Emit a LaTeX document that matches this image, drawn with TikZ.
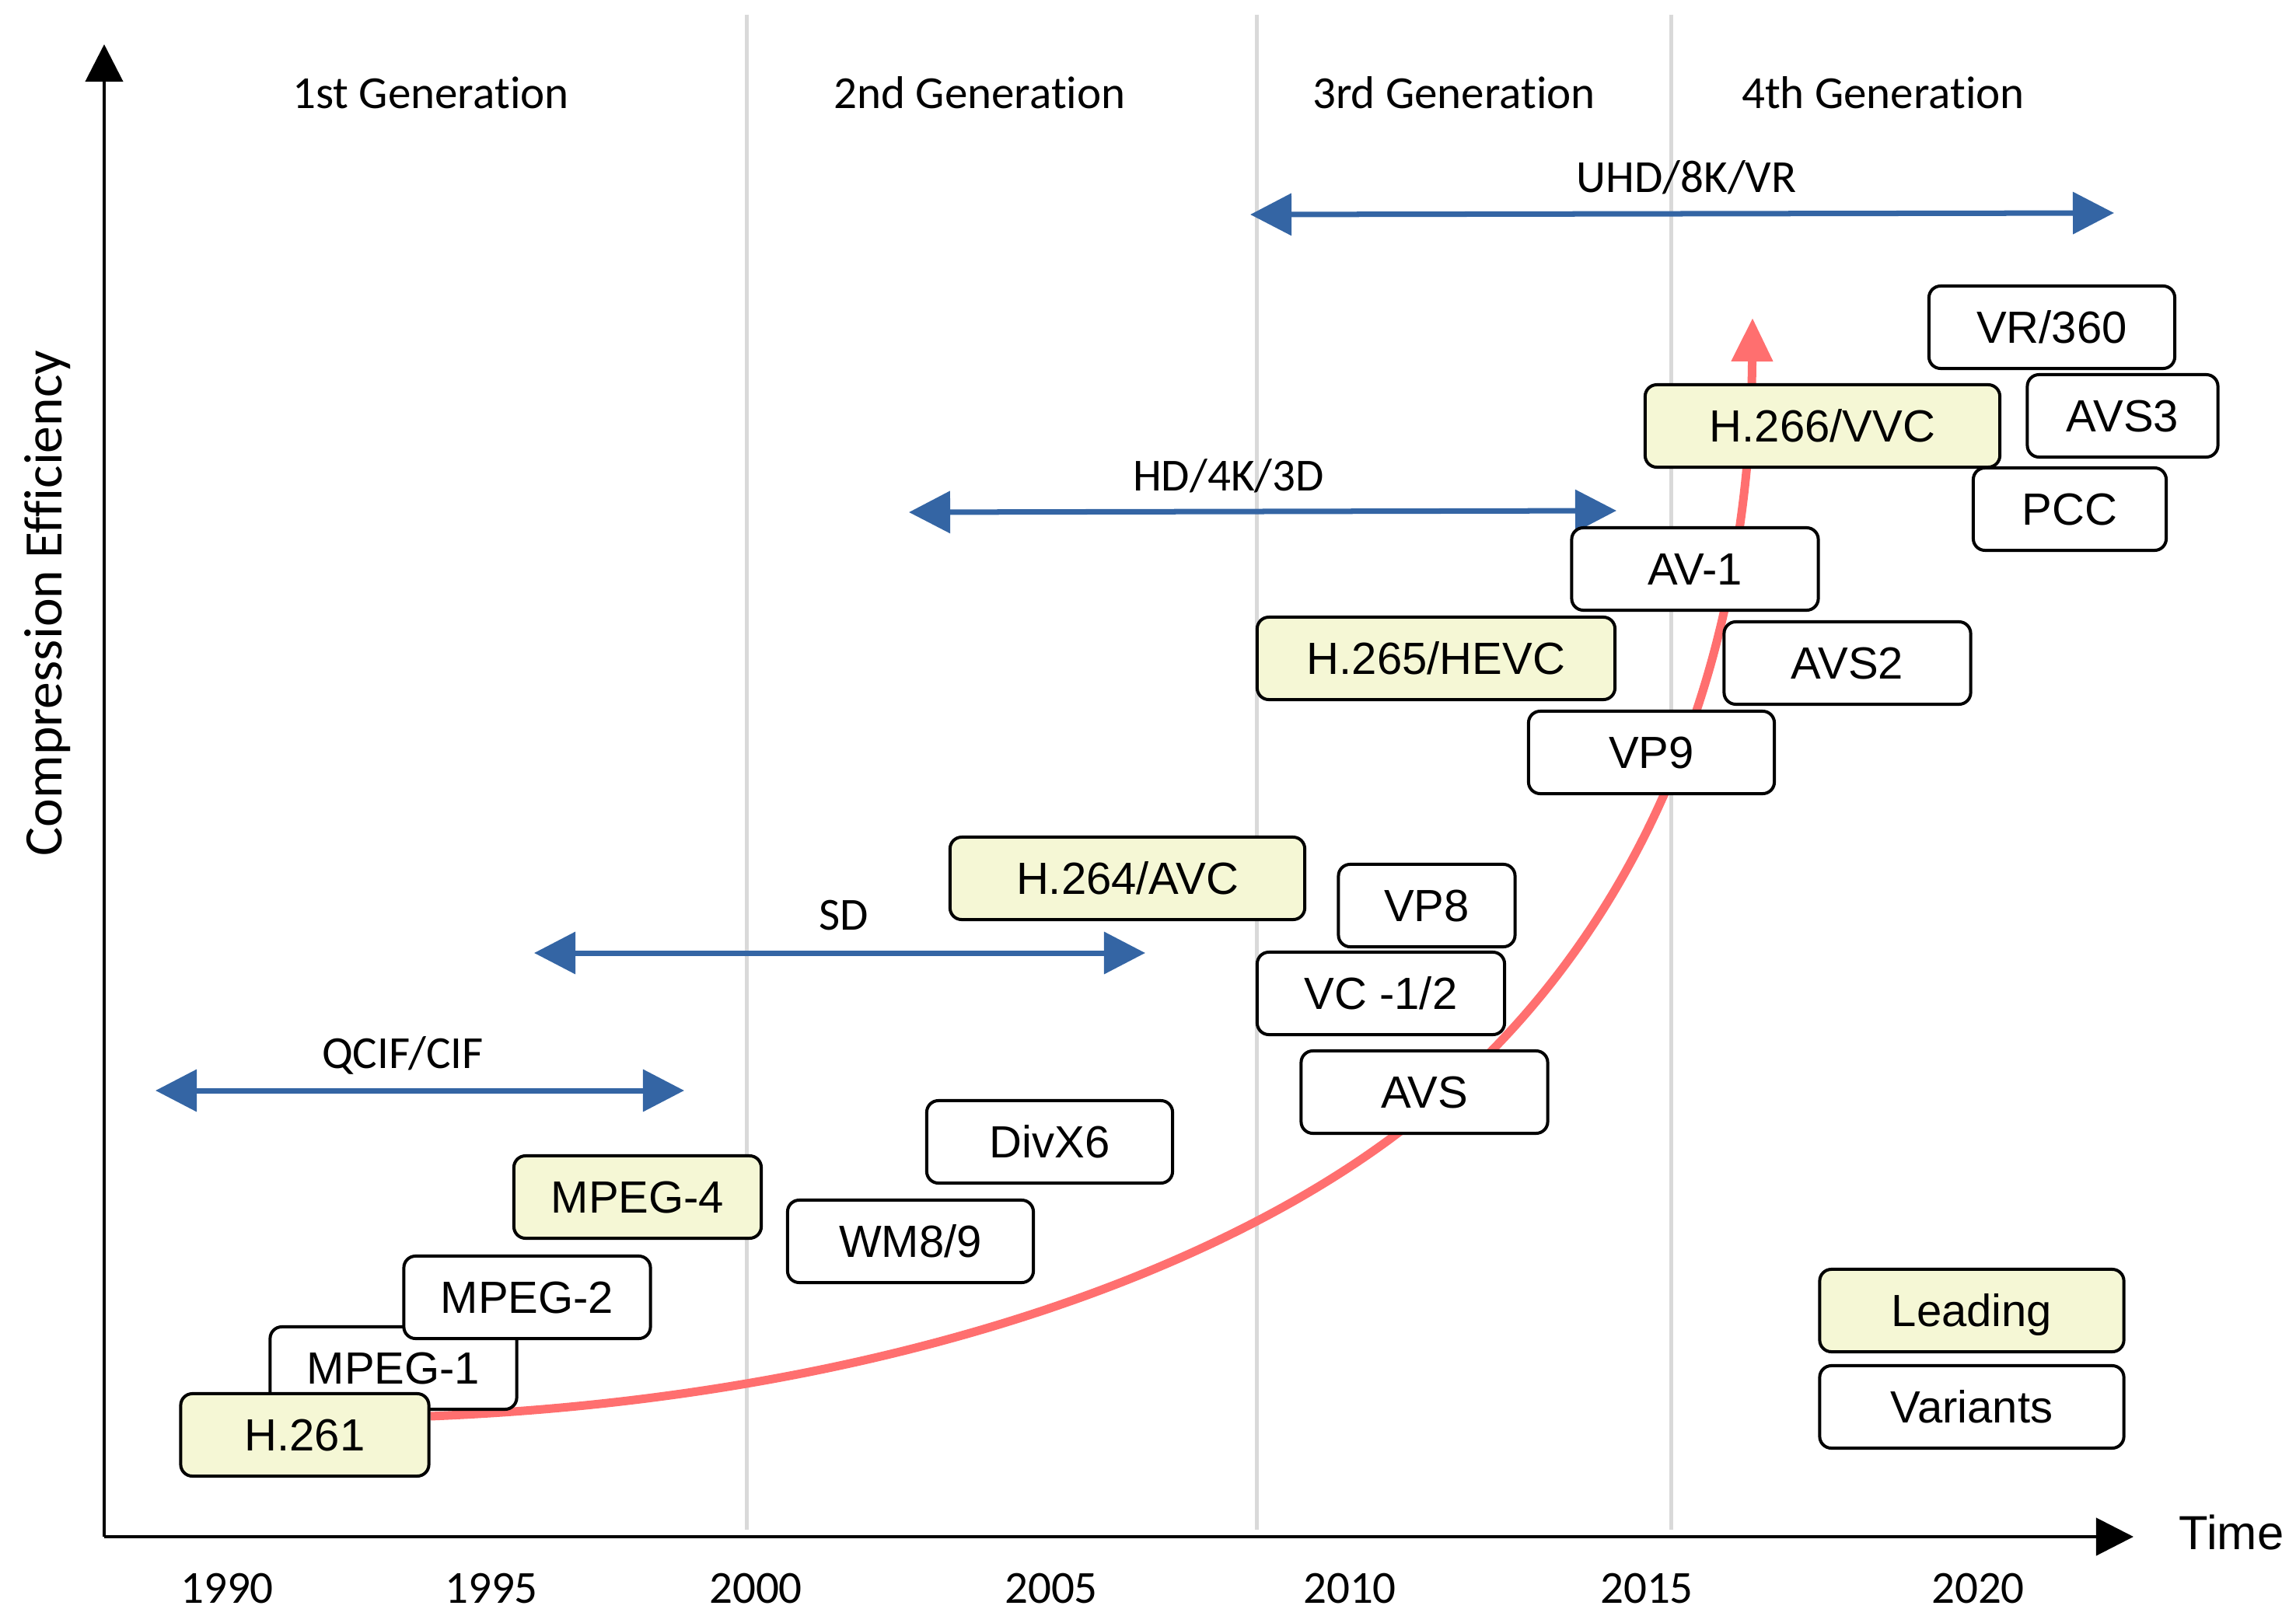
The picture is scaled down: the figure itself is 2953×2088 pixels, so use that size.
\documentclass[tikz,border=0pt]{standalone}
\usepackage{fontspec}
\newfontfamily\carlito{Carlito}[Ligatures=NoCommon]
\newfontfamily\arial{Liberation Sans}
\usetikzlibrary{arrows.meta}
\usetikzlibrary{backgrounds}
\definecolor{leadfill}{RGB}{245,247,213}
\definecolor{rangeblue}{RGB}{52,101,164}
\definecolor{trendred}{RGB}{255,111,111}
\definecolor{genline}{RGB}{217,217,217}
\tikzset{
    codec/.style = {rectangle, rounded corners=0.15cm, draw=black, line width=0.04cm, fill=white, minimum height=1.06cm, inner sep=0pt, text height=0.415cm, text depth=0pt, font=\arial\fontsize{16.5}{18}\selectfont},
    lead/.style = {codec, fill=leadfill},
    gen/.style = {anchor=base, font=\carlito\fontsize{16.8}{19}\selectfont},
    resarrow/.style = {{Triangle[length=0.53cm,width=0.53cm]}-{Triangle[length=0.53cm,width=0.53cm]}, line width=0.07cm, color=rangeblue},
    axis/.style = {-{Triangle[length=0.48cm,width=0.48cm]}, line width=0.04cm},
    trend/.style = {-{Triangle[length=0.56cm,width=0.51cm]}, line width=0.11cm, color=trendred},
    sepline/.style = {line width=0.05cm, draw=genline}
}

\begin{document}
\begin{tikzpicture}[x=0.01cm, y=-0.01cm]
  \useasboundingbox (0,0) rectangle (2953,2088);

  % axes
  \coordinate (origin) at (134,1977);
  \coordinate (yend) at (134,57);
  \coordinate (xend) at (2744,1977);
  \draw[axis] (origin) -- (yend);
  \draw[axis] (origin) -- (xend);
  \node (ylab) at (79,776) [rotate=90, anchor=base, font=\carlito\fontsize{19.8}{22}\selectfont] {Compression Efficiency};
  \node (time) at (2870,1993) [anchor=base, font=\arial\fontsize{17.5}{20}\selectfont] {Time};
  \foreach \yr/\xx in {1990/292, 1995/632, 2000/972, 2005/1352, 2010/1736, 2015/2118, 2020/2544}
    \node (yr\yr) at (\xx,2062) [gen] {\yr};

  % generations
  \foreach \gn/\xx in {1st/554, 2nd/1260, 3rd/1870, 4th/2422}
    \node (gen\gn) at (\xx,140) [gen] {\gn{} Generation};

  % resolutions
  \coordinate (qcifL) at (200,1403);
  \coordinate (qcifR) at (880,1403);
  \draw[resarrow] (qcifL) -- (qcifR);
  \node (qcif) at (518,1374) [gen] {QCIF/CIF};
  \coordinate (sdL) at (687,1226);
  \coordinate (sdR) at (1473,1226);
  \draw[resarrow] (sdL) -- (sdR);
  \node (sd) at (1085,1196) [gen] {SD};
  \coordinate (hdL) at (1169,659);
  \coordinate (hdR) at (2079,657);
  \draw[resarrow] (hdL) -- (hdR);
  \node (hd) at (1580,631) [gen] {HD/4K/3D};
  \coordinate (uhdL) at (1608,276);
  \coordinate (uhdR) at (2719,274);
  \draw[resarrow] (uhdL) -- (uhdR);
  \node (uhd) at (2169,248) [gen] {UHD/8K/VR};

  % codecs
  \node (mpeg1) at (506,1760) [codec, minimum width=3.17cm] {MPEG-1};
  \node (h261) at (392,1846) [lead, minimum width=3.19cm] {H.261};
  \node (mpeg2) at (678,1669) [codec, minimum width=3.17cm] {MPEG-2};
  \node (mpeg4) at (820,1540) [lead, minimum width=3.18cm] {MPEG-4};
  \node (wm89) at (1171,1597) [codec, minimum width=3.16cm] {WM8/9};
  \node (divx6) at (1350,1469) [codec, minimum width=3.16cm] {DivX6};
  \node (h264) at (1450,1130) [lead, minimum width=4.56cm] {H.264/AVC};
  \node (vp8) at (1835,1165) [codec, minimum width=2.27cm] {VP8};
  \node (vc12) at (1776,1278) [codec, minimum width=3.18cm] {VC -1/2};
  \node (avs) at (1832,1405) [codec, minimum width=3.17cm] {AVS};
  \node (h265) at (1847,847) [lead, minimum width=4.60cm] {H.265/HEVC};
  \node (vp9) at (2124,968) [codec, minimum width=3.16cm] {VP9};
  \node (avs2) at (2376,853) [codec, minimum width=3.17cm] {AVS2};
  \node (av1) at (2180,732) [codec, minimum width=3.17cm] {AV-1};
  \node (h266) at (2344,548) [lead, minimum width=4.56cm] {H.266/VVC};
  \node (vr360) at (2639,421) [codec, minimum width=3.16cm] {VR/360};
  \node (avs3) at (2730,535) [codec, minimum width=2.45cm] {AVS3};
  \node (pcc) at (2662,655) [codec, minimum width=2.48cm] {PCC};

  % legend
  \node (leading) at (2536,1686) [lead, minimum width=3.91cm] {Leading};
  \node (variants) at (2536,1810) [codec, minimum width=3.91cm] {Variants};

  \begin{pgfonlayer}{background}
    \foreach \xx in {960,1616,2149}
      \draw[sepline] (\xx,19) -- (\xx,1968);
    \coordinate (trendtip) at (2254,409);
    \draw[trend] ([yshift=0.24cm]h261.east) .. controls (1100,1800) and (1550,1650) .. (1808,1450)
      .. controls (2080,1240) and (2250,900) .. (trendtip);
  \end{pgfonlayer}
\end{tikzpicture}
\end{document}
